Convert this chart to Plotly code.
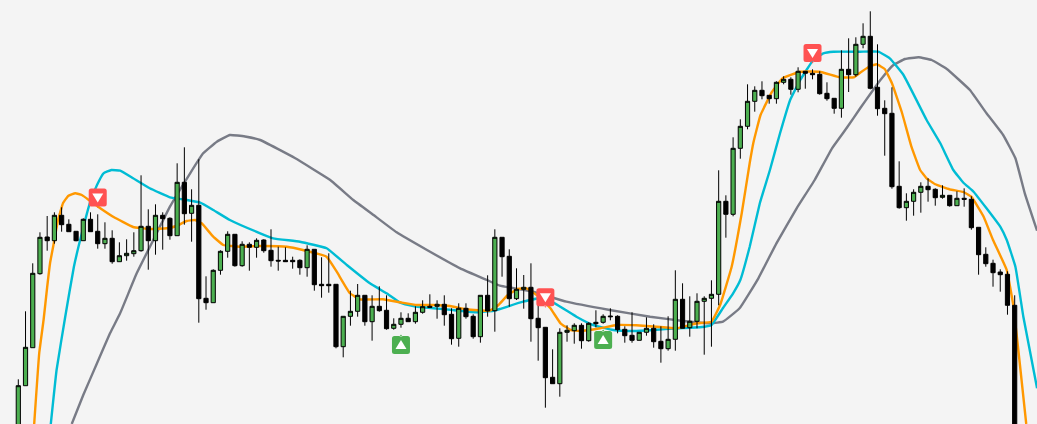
import plotly.graph_objects as go

# candles, left to right (price units are arbitrary, nothing on the chart shows them)
opens = [-6, 38.3, 76.3, 150.3, 187, 183.3, 208.7, 199.7, 192.7, 183.3, 204.7, 192.7, 180.3, 185.7, 162.3, 168.3, 170.3, 173.3, 197.7, 183.3,
         208.7, 205.7, 188.3, 241.7, 210.7, 218.7, 125.7, 121.3, 153.7, 172.7, 189.7, 158.3, 179.7, 176.7, 184, 173.7, 163.7, 163.7, 163.7, 163.7,
         156.3, 174.7, 139.7, 139.7, 139.7, 77.3, 107.7, 112.7, 128.7, 102.3, 117.7, 113.7, 95.7, 99.7, 105.7, 102.3, 111.7, 117.7, 117.7, 119.7,
         109.7, 85.7, 115.7, 107.7, 87.3, 128.7, 113.3, 186.7, 167.7, 125.3, 134.7, 136.7, 105.7, 96.7, 46.7, 40.3, 91.7, 93.3, 98.7, 83.3,
         101.7, 101.7, 108, 107.7, 94.7, 88.7, 83.7, 91.7, 95.7, 82.7, 75.3, 84.7, 124.7, 96.3, 102.7, 122.7, 125.7, 129.7, 222.7, 209.7,
         275.7, 297.7, 322.7, 333.7, 328.7, 325.3, 341.7, 344.7, 334.7, 352.7, 350.7, 349.7, 330.7, 325.7, 315.7, 354.7, 349.3, 379.7, 387.7, 336.7,
         315.7, 310.7, 237.7, 216.3, 222.7, 231.7, 237.7, 234.7, 226.7, 228.7, 218.3, 225.7, 224.7, 196.7, 169.7, 160.7, 152, 149.7, 118.7]
highs = [44.7, 112.7, 160.7, 191.7, 208, 211.7, 216.7, 204.7, 192.7, 205.7, 211.7, 209.7, 201.7, 193.7, 181.7, 184.7, 191.7, 248.7, 214.7, 219.7,
         211.7, 206.7, 260.7, 276.7, 234.7, 264.7, 147.7, 154.7, 173.7, 192.7, 189.7, 182.7, 181.7, 185.7, 184.7, 194.7, 177.3, 176.7, 167.3, 164.7,
         178.7, 174.7, 166.7, 170.7, 139.7, 107.7, 133.3, 140, 128.7, 128.7, 137.7, 128.7, 105.7, 111.7, 110.7, 117.7, 123.7, 129.7, 123.7, 128.7,
         115.7, 120.7, 120.7, 109.7, 128.7, 148.7, 194.7, 186.7, 174.7, 155.7, 149, 160.7, 124, 96.7, 74.7, 95.7, 98.7, 100.7, 100.7, 101.7,
         113.7, 109.7, 115.7, 108.7, 97.7, 111.7, 91.7, 106.7, 99.7, 97.7, 107.7, 153.7, 140.7, 127.7, 130.7, 127.7, 143.7, 253.7, 228.7, 286.7,
         304.7, 339.7, 337.7, 342.7, 328.7, 342.7, 347.7, 346.7, 356.7, 352.7, 354.7, 352.7, 341.7, 325.7, 373.7, 385.7, 386.7, 400.7, 412.7, 379.7,
         323.7, 336.7, 262.7, 230.7, 234.7, 241.7, 245.7, 235.7, 238.7, 228.7, 232.7, 235.7, 227.7, 196.7, 176.7, 164.3, 154.7, 152.7, 128.7]
lows = [-12, 38.3, 76.3, 149.3, 173.3, 180.3, 192.3, 192.3, 182.7, 183.3, 192.3, 175.3, 175.3, 160.3, 162.3, 163.3, 167.3, 172.3, 154.3, 169.3,
        174.3, 184.3, 188.3, 199.3, 182.3, 101.3, 114.3, 121.3, 149.3, 166.3, 157.3, 157.3, 153.3, 166.3, 171.3, 157.3, 153.3, 162.3, 155.3, 149.3,
        147.3, 133.3, 126.3, 131.3, 75.7, 66.7, 98.3, 107.3, 98.3, 83.3, 112.3, 94.3, 94.3, 96.3, 102.3, 100.3, 110.3, 116.3, 105.3, 98.3,
        79.3, 77.3, 105.3, 85.3, 81.3, 107.3, 92.3, 147.3, 117.3, 124, 115.3, 82.3, 63.3, 16.3, 40.3, 27.3, 82.3, 80.3, 75.3, 82.3,
        96.7, 100.3, 103.7, 90.7, 81.3, 81.3, 83.7, 88.3, 76.3, 61.3, 73.3, 73.3, 95.7, 87.3, 95.7, 69.3, 77.3, 118.7, 186.3, 207.7,
        265.3, 294.7, 312.3, 324.7, 320.3, 320.3, 339.7, 329.3, 331.7, 335.3, 344.7, 329.3, 323.3, 310.3, 306.3, 332, 347.3, 375.7, 334.7, 308.3,
        268.3, 235.3, 215.3, 203.3, 208.3, 211.3, 222.3, 218.3, 225.3, 217.3, 218.3, 217.3, 194.3, 149.3, 157.3, 137.3, 132.3, 109.3, -16]
closes = [38.3, 76.7, 150.7, 186.7, 183.3, 208.7, 199.3, 192.3, 183.3, 204.7, 192.3, 180.3, 185.7, 162.3, 168.3, 170.7, 173.3, 197.7, 183.3, 208.7,
          205.3, 188.3, 241.7, 210.3, 218.7, 125.3, 121.3, 153.7, 172.7, 189.7, 158.3, 179.7, 176.7, 183.7, 173.3, 163.3, 163, 162.3, 162.3, 156.3,
          174.7, 139.3, 138.3, 138.3, 77.3, 107.7, 112.7, 128.7, 102.3, 117.7, 113.3, 95.3, 99.7, 105.7, 102.3, 111.7, 117.3, 116.7, 119.7, 109.3,
          85.3, 115.7, 107.3, 87.3, 128.7, 113, 186.7, 167.3, 125.3, 134.7, 136.7, 105.3, 96.3, 46.3, 40.3, 91.7, 93.7, 98.7, 83.3, 100.7,
          100.3, 107.7, 107.3, 94.3, 88.3, 83.7, 91.7, 95.7, 82.3, 75.3, 84.7, 124.7, 95.7, 102.7, 122.7, 125.7, 129.7, 222.7, 209.7, 275.7,
          297.7, 322.7, 333.7, 328.3, 325.3, 341.7, 344.7, 334.7, 352.7, 350.7, 349.3, 330.3, 325.3, 315.7, 354.7, 349.3, 379.7, 387.7, 335.7, 315.3,
          310.3, 237.3, 216.3, 222.7, 231.7, 237.7, 234.3, 226.3, 228.7, 218.3, 225.7, 224.7, 196.3, 169.3, 160.3, 151.3, 149.3, 118.7, -6]
bars = list(range(len(opens)))

fast_bars = [2.2, 2.9, 3.5, 4.0, 4.4, 5.0, 5.5, 6.2, 6.9, 7.9, 8.8, 9.9, 11.3, 13.2, 15.9, 18.0, 20.6, 21.9, 23.3, 24.5,
             25.4, 27.0, 28.4, 30.7, 33.5, 37.2, 39.4, 42.7, 44.1, 45.9, 47.3, 50.5, 52.9, 55.2, 57.4, 59.8, 62.1, 65.3, 66.5, 67.8,
             69.2, 70.4, 72.3, 73.7, 75.1, 76.5, 77.8, 80.6, 82.9, 85.6, 88.4, 91.2, 94.0, 96.0, 97.2, 98.8, 100.2, 101.3, 101.8, 102.8,
             104.4, 105.9, 108.3, 111.0, 113.8, 115.7, 116.6, 118.0, 118.9, 120.0, 121.0, 122.4, 123.7, 124.9, 125.8, 127.0, 129.0, 130.9, 132.0, 133.7,
             135.0, 136.9, 137.8, 138.7, 139.6]
fast_ma = [0, 71, 104, 137, 161, 184, 204, 221, 228, 230.7, 229, 223.3, 216, 207, 197, 195, 195.7, 198, 203, 204,
           200.7, 187.3, 179, 177.3, 178, 177.3, 174, 167.3, 152.3, 131, 124.7, 124.7, 121.7, 119, 119, 118, 114.7, 113.3, 119, 129,
           135, 135.7, 126, 115.7, 100.7, 94, 93, 95.7, 99, 98.7, 97.3, 95.7, 100.7, 102.3, 119, 157.3, 211, 261, 281, 309,
           332.3, 346, 352.3, 352.3, 346.7, 346.7, 351.3, 358, 359.7, 355, 340.7, 311, 277.3, 254, 245.7, 239.7, 234.7, 232, 227.3, 207.3,
           184, 154, 119, 61, 0]

mid_bars = [4.5, 5.3, 6.5, 7.7, 8.8, 9.9, 10.9, 11.8, 12.9, 14.1, 15.9, 18.2, 21.0, 23.3, 25.2, 27.0, 29.3, 33.5, 35.3, 39.0,
            42.7, 45.5, 48.7, 51.0, 52.9, 54.7, 57.5, 60.2, 63.5, 65.8, 66.7, 69.9, 72.3, 74.3, 77.3, 79.6, 82.4, 85.2, 88.0, 91.2,
            94.4, 96.0, 97.6, 99.0, 100.0, 101.3, 102.7, 104.1, 105.5, 106.9, 108.3, 110.1, 111.5, 112.9, 116.6, 119.1, 120.7, 122.6, 125.8, 127.7,
            129.5, 130.9, 132.3, 134.1, 136.0, 136.9, 138.1, 139.2, 141.1]
mid_ma = [0, 54, 107.3, 157.3, 190.7, 220.7, 239, 250.7, 254, 253.3, 245.7, 235.7, 226.7, 224, 221.3, 214, 204, 190.7, 185.7, 182.3,
          175.7, 159, 140.7, 130.7, 121.3, 118, 115.7, 114, 111.7, 113.3, 115, 122.3, 125.7, 120.7, 107.3, 99, 94, 93, 94, 95.7,
          96.7, 99, 116, 130.7, 144, 177.3, 220.7, 254, 290.7, 324, 344, 364, 370.7, 372.3, 372.3, 372.3, 365.7, 349, 304, 280.7,
          254, 241.3, 232.3, 215.7, 197.3, 184, 157.3, 107.3, 35.7]

slow_bars = [7.4, 9.0, 10.9, 12.7, 14.1, 16.4, 18.7, 21.0, 23.8, 25.6, 27.5, 29.3, 31.4, 33.5, 38.3, 43.2, 46.4, 49.2, 52.4, 56.6,
             61.2, 64.9, 66.7, 71.3, 75.9, 81.9, 87.5, 92.1, 96.0, 97.6, 99.9, 102.5, 105.0, 107.8, 110.3, 112.7, 114.7, 116.6, 118.0, 119.4,
             121.2, 122.8, 124.7, 126.5, 128.6, 131.8, 134.1, 136.4, 138.1, 139.4, 141.1]
slow_ma = [0, 29, 60.7, 90.7, 110.7, 150.7, 184, 217.3, 250.7, 270.7, 282.3, 289, 287.5, 284, 266, 244, 224, 209, 191.7, 174,
           155.7, 144, 138.3, 132.3, 122.3, 114, 107.3, 103, 100.7, 102.3, 115.7, 145.7, 180.7, 215.7, 244, 275.7, 295.7, 315.7, 330, 344,
           359, 365, 366.7, 364, 355, 334, 310.7, 289, 265.7, 230.7, 193.3]

# trade signals
sell_bars = [11, 73, 110]
sell_prices = [226.5, 126.7, 371]
buy_bars = [53, 81]
buy_prices = [79, 84]


def rounded_badge(tip):
    # rounded square with a small tip pointing at the candle, in pixels around the anchor
    return ("M-6.5,-9 L6.5,-9 Q9,-9 9,-6.5 L9,6.5 Q9,9 6.5,9 L-6.5,9 Q-9,9 -9,6.5 "
            "L-9,-6.5 Q-9,-9 -6.5,-9 Z M-1.5,{0} L0,{1} L1.5,{0} Z").format(8.5 * tip, 10.5 * tip)


def signal_shapes(signal_bars, prices, color, up):
    # pixel sized shapes count y upwards
    shapes = []
    for bar, price in zip(signal_bars, prices):
        tri = "M-5.5,-4 L5.5,-4 L0,5 Z" if up else "M-5.5,4 L5.5,4 L0,-5 Z"
        for path, fill in ((rounded_badge(1 if up else -1), color), (tri, "white")):
            shapes.append(dict(type="path", xref="x", yref="y", xsizemode="pixel", ysizemode="pixel",
                               xanchor=bar, yanchor=price, path=path, fillcolor=fill,
                               line=dict(width=0), layer="above"))
    return shapes


fig = go.Figure()

fig.add_trace(go.Scatter(x=slow_bars, y=slow_ma, mode='lines', name='slow',
                         line=dict(color='#787B86', width=2.4, shape='spline', smoothing=0.3)))
fig.add_trace(go.Scatter(x=mid_bars, y=mid_ma, mode='lines', name='mid',
                         line=dict(color='#00BCD4', width=2.4, shape='spline', smoothing=0.3)))
fig.add_trace(go.Scatter(x=fast_bars, y=fast_ma, mode='lines', name='fast',
                         line=dict(color='#FF9800', width=2.4, shape='spline', smoothing=0.3)))

fig.add_trace(go.Candlestick(x=bars, open=opens, high=highs, low=lows, close=closes, name='price',
                             whiskerwidth=0, zorder=1,
                             increasing=dict(fillcolor='#4CAF50', line=dict(color='black', width=1)),
                             decreasing=dict(fillcolor='black', line=dict(color='black', width=1))))

fig.update_layout(width=1037, height=424,
                  margin=dict(l=0, r=0, t=0, b=0),
                  paper_bgcolor='#F4F4F4', plot_bgcolor='#F4F4F4',
                  showlegend=False,
                  boxgap=0.42, boxgroupgap=0,
                  shapes=signal_shapes(sell_bars, sell_prices, '#FF5252', False)
                  + signal_shapes(buy_bars, buy_prices, '#4CAF50', True),
                  xaxis=dict(visible=False, rangeslider=dict(visible=False), range=[-2.535, 141.09]),
                  yaxis=dict(visible=False, range=[0, 424]))

fig.write_html("out.html", config=dict(displayModeBar=False),
               post_script="document.body.style.margin='0';document.body.style.background='#F4F4F4';")
